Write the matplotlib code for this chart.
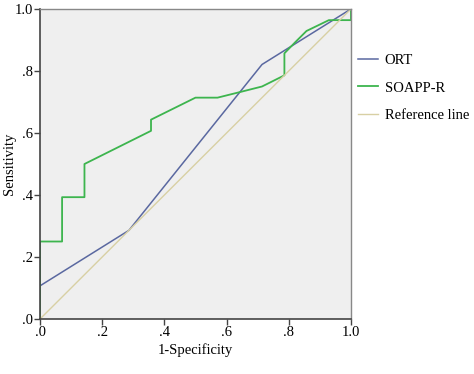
import matplotlib
matplotlib.use("Agg")
import matplotlib.pyplot as plt

plt.rcParams['font.family'] = ['Liberation Serif', 'DejaVu Serif']

# ROC coordinates
ort_x = [0.0, 0.286, 0.714, 1.0]
ort_y = [0.107, 0.286, 0.821, 1.0]

soapp_x = [0.0, 0.0, 0.071, 0.071, 0.143, 0.143, 0.357, 0.357, 0.5, 0.571,
           0.643, 0.714, 0.786, 0.786, 0.821, 0.857, 0.929, 1.0, 1.0]
soapp_y = [0.0, 0.25, 0.25, 0.393, 0.393, 0.5, 0.607, 0.643, 0.714, 0.714,
           0.732, 0.75, 0.786, 0.857, 0.893, 0.929, 0.964, 0.964, 1.0]

ref_x = [0.0, 1.0]
ref_y = [0.0, 1.0]

ticks = [0.0, 0.2, 0.4, 0.6, 0.8, 1.0]
tick_labels = ['.0', '.2', '.4', '.6', '.8', '1.0']

fig = plt.figure(figsize=(4.74, 3.74), dpi=100)
ax = fig.add_axes([0.0844, 0.147, 0.656, 0.829])
ax.set_facecolor('#efefef')

ax.plot(ort_x, ort_y, color='#5a68a0', lw=1.1, label='ORT')
ax.plot(soapp_x, soapp_y, color='#3db54e', lw=1.3, label='SOAPP-R')
ax.plot(ref_x, ref_y, color='#d8d0a4', lw=1.0, label='Reference line')

ax.set_xlim(0, 1)
ax.set_ylim(0, 1)
ax.set_xticks(ticks)
ax.set_xticklabels(tick_labels)
ax.set_yticks(ticks)
ax.set_yticklabels(tick_labels)
ax.tick_params(direction='out', length=4, width=1, labelsize=10.5, pad=1,
               color='#444444')
ax.set_xlabel('1-Specificity', fontsize=10.5, labelpad=3)
ax.set_ylabel('Sensitivity', fontsize=10.5)
ax.yaxis.set_label_coords(-0.077, 0.5)

for side in ['left', 'bottom']:
    ax.spines[side].set_color('#444444')
    ax.spines[side].set_linewidth(1.2)
for side in ['top', 'right']:
    ax.spines[side].set_color('#888888')
    ax.spines[side].set_linewidth(1.0)

ax.legend(loc='upper left', bbox_to_anchor=(1.003, 0.875), frameon=False,
          fontsize=10.5, handlelength=1.37, handletextpad=0.48,
          labelspacing=1.0, borderaxespad=0)

fig.savefig('out.png', dpi=100)
